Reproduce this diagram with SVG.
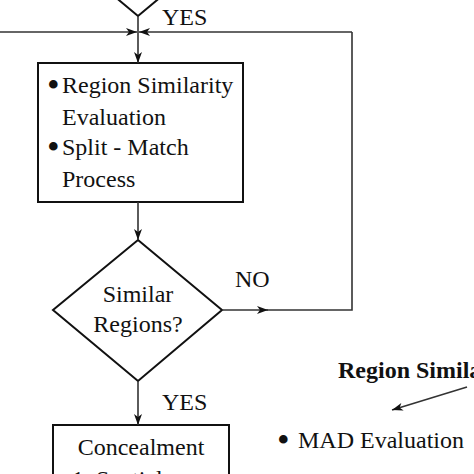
<svg xmlns="http://www.w3.org/2000/svg" width="474" height="474" viewBox="0 0 474 474">
<defs>
<marker id="ah" markerUnits="userSpaceOnUse" markerWidth="12" markerHeight="8" refX="11" refY="4" orient="auto">
<path d="M0,0 L11,4 L0,8 L3,4 z" fill="#111"/>
</marker>
<style>
.t{font-family:"Liberation Serif","Times New Roman",serif;font-size:24px;fill:#111}
.b{font-weight:bold}
.d{font-size:36px}
.n{fill:none;stroke:#111;stroke-width:2}
.c{fill:none;stroke:#333;stroke-width:1.6}
.a{marker-end:url(#ah)}
</style>
</defs>
<rect width="474" height="474" fill="#fff"/>
<g id="decision-top">
<polygon class="n" points="138,-126 223,-55 138,16 53,-55"/>
</g>
<g id="evaluation-box">
<rect class="n" x="38" y="63" width="205" height="139"/>
<text class="t d" x="47" y="97">•</text>
<text class="t" x="62" y="93">Region Similarity</text>
<text class="t" x="62" y="125">Evaluation</text>
<text class="t d" x="47" y="159">•</text>
<text class="t" x="62" y="155">Split - Match</text>
<text class="t" x="62" y="187">Process</text>
</g>
<g id="decision-similar">
<polygon class="n" points="138,240 222,310 138,381 53,310"/>
<text class="t" x="138" y="302" text-anchor="middle">Similar</text>
<text class="t" x="138" y="332" text-anchor="middle">Regions?</text>
</g>
<g id="concealment-box">
<rect class="n" x="53" y="425" width="176" height="100"/>
<text class="t" x="141" y="455" text-anchor="middle">Concealment</text>
<text class="t" x="72" y="487">1. Spatial</text>
</g>
<g id="region-similarity-note">
<text class="t b" x="338" y="378">Region Similarity</text>
<text class="t d" x="277" y="452">•</text>
<text class="t" x="298" y="448">MAD Evaluation</text>
</g>
<g id="connectors">
<line class="c" x1="138" y1="16" x2="138" y2="32"/>
<line class="c a" x1="0" y1="32" x2="137" y2="32"/>
<line class="c a" x1="352" y1="32" x2="139" y2="32"/>
<line class="c a" x1="138" y1="32" x2="138" y2="63"/>
<line class="c a" x1="138" y1="202" x2="138" y2="240"/>
<line class="c a" x1="222" y1="310" x2="268" y2="310"/>
<polyline class="c" points="266,310 352,310 352,32"/>
<line class="c a" x1="138" y1="381" x2="138" y2="425"/>
<line class="c a" x1="467" y1="387" x2="392" y2="410"/>
<text class="t" x="162" y="25">YES</text>
<text class="t" x="235" y="287">NO</text>
<text class="t" x="162" y="410">YES</text>
</g>
</svg>
